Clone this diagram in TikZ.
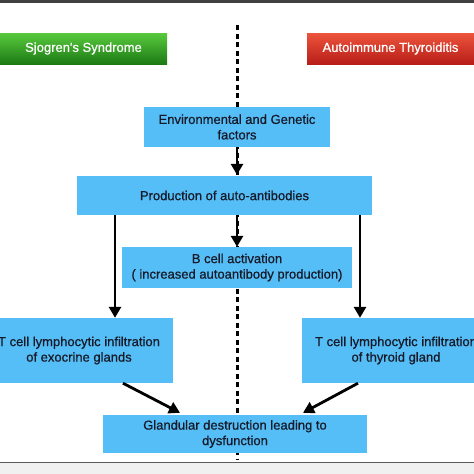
\documentclass[tikz,border=0pt]{standalone}
\usepackage{fontspec}
\setmainfont{Liberation Sans}
\newfontfamily\heavyfont{Liberation Sans}[RawFeature={embolden=0.7}]
\usetikzlibrary{arrows.meta}
\definecolor{boxblue}{RGB}{86,190,247}
\definecolor{textdark}{RGB}{22,26,40}
\definecolor{greentop}{RGB}{88,202,62}
\definecolor{greenbot}{RGB}{28,122,20}
\definecolor{redtop}{RGB}{236,84,60}
\definecolor{redbot}{RGB}{184,30,24}

\begin{document}
\begin{tikzpicture}[x=1pt,y=-1pt,
    box/.style={fill=boxblue, text=textdark, align=center, inner sep=0pt,
      font=\heavyfont\fontsize{13}{15.5}\selectfont},
    head/.style={text=white, minimum width=167pt, minimum height=31pt, inner sep=0pt,
      font=\heavyfont\fontsize{13}{15.5}\selectfont},
    arr/.style={-{Triangle[length=11pt,width=12pt]}, line width=2.8pt}]
    \clip (0,0) rectangle (474,474);
    \fill[white] (0,0) rectangle (474,474);
    \fill[black!75] (0,0) rectangle (474,3);
    \fill[black!6] (0,462) rectangle (474,474);
    \draw[black!65, line width=1pt] (0,462) -- (474,462);
    \draw[line width=3pt, dash pattern=on 5pt off 3.5pt] (237,25) -- (237,460);
%    headers
    \node[head, top color=greentop, bottom color=greenbot] (sjogren) at (83.5,48.5) {Sjogren's Syndrome};
    \node[head, top color=redtop, bottom color=redbot] (thyroid) at (390.5,48.5) {Autoimmune Thyroiditis};
%    boxes
    \node[box, minimum width=186pt, minimum height=40pt] (env) at (237,127) {Environmental and Genetic\\factors};
    \node[box, minimum width=295pt, minimum height=39pt] (prod) at (224.5,195.5) {Production of auto-antibodies};
    \node[box, minimum width=230pt, minimum height=41pt] (bcell) at (237,267.5) {B cell activation\\( increased autoantibody production)};
    \node[box, minimum width=188pt, minimum height=65pt] (tleft) at (79,350.5) {T cell lymphocytic infiltration\\of exocrine glands};
    \node[box, minimum width=188pt, minimum height=65pt] (tright) at (396,350.5) {T cell lymphocytic infiltration\\of thyroid gland};
    \node[box, minimum width=264pt, minimum height=38pt] (gland) at (235,434) {Glandular destruction leading to\\dysfunction};
    \coordinate (lx) at (115,0);
    \coordinate (rx) at (360,0);
    \draw[arr] (env.south) -- ([yshift=1pt]prod.north -| env.south);
    \draw[arr] (prod.south -| bcell.north) -- (bcell.north);
    \draw[arr] (prod.south -| lx) -- (tleft.north -| lx);
    \draw[arr] (prod.south -| rx) -- (tright.north -| rx);
    \draw[arr] ([xshift=44pt]tleft.south) -- ([xshift=-55pt,yshift=2pt]gland.north);
    \draw[arr] ([xshift=-38pt]tright.south) -- ([xshift=68pt,yshift=2pt]gland.north);
\end{tikzpicture}
\end{document}
